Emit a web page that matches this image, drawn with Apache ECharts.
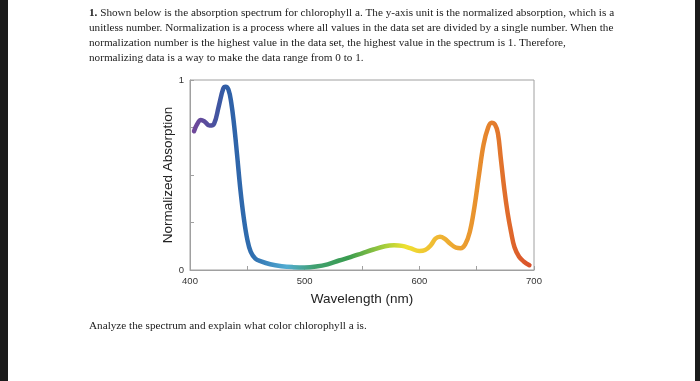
<!DOCTYPE html>
<html>
<head>
<meta charset="utf-8">
<script src="https://cdn.jsdelivr.net/npm/echarts@6/dist/echarts.min.js"></script>
<style>html,body{margin:0;padding:0;background:#fff}#c{width:700px;height:381px}</style>
</head>
<body>
<div id="c"></div>
<script>
const wavelengths = [403.5,406,409.5,413,417,421,425,429,431,433.5,436,438.5,441,444,447,450,453,457,462,470,480,490,500,510,520,530,540,550,560,570,578,585,592,600,605,610,614,618,622,627,632,636,640,644,648,652,656,660,663,666,668.5,671,674,677,680,683,687,691,696];
const absorption = [0.73,0.765,0.79,0.78,0.76,0.77,0.86,0.955,0.965,0.95,0.88,0.76,0.61,0.42,0.27,0.16,0.095,0.06,0.045,0.03,0.02,0.015,0.013,0.018,0.03,0.05,0.068,0.088,0.108,0.125,0.13,0.127,0.115,0.1,0.105,0.13,0.165,0.175,0.165,0.138,0.118,0.115,0.135,0.2,0.33,0.5,0.66,0.75,0.775,0.765,0.72,0.59,0.43,0.3,0.2,0.12,0.07,0.045,0.025];
const xTicks = [400,500,600,700];
const yTickLabels = [0,1];
const questionNumber = "1.";
const paragraph = [
  " Shown below is the absorption spectrum for chlorophyll a. The y-axis unit is the normalized absorption, which is a",
  "unitless number. Normalization is a process where all values in the data set are divided by a single number. When the",
  "normalization number is the highest value in the data set, the highest value in the spectrum is 1. Therefore,",
  "normalizing data is a way to make the data range from 0 to 1."
];
const question = "Analyze the spectrum and explain what color chlorophyll a is.";
const xTitle = "Wavelength (nm)";
const yTitle = "Normalized Absorption";

const chart = echarts.init(document.getElementById('c'), null, {renderer:'canvas'});
const serif = '"Liberation Serif", "DejaVu Serif", serif';
const sans = '"Liberation Sans", Arial, sans-serif';

const graphics = [
  {type:'rect', left:0, top:0, shape:{width:8, height:381}, style:{fill:'#1b1b1b'}},
  {type:'rect', left:695, top:0, shape:{width:5, height:381}, style:{fill:'#1b1b1b'}}
];
paragraph.forEach((t,i)=>{
  const txt = i === 0 ? '{b|' + questionNumber + '}' + t : t;
  graphics.push({type:'text', left:89, top:8 + i*14.7, style:{
    text:txt, fontFamily:serif, fontSize:11.2, fill:'#1a1a1a',
    rich:{b:{fontFamily:serif, fontSize:11.2, fontWeight:'bold', fill:'#1a1a1a'}}
  }});
});
graphics.push({type:'text', left:89, top:321, style:{text:question, fontFamily:serif, fontSize:11.2, fill:'#1a1a1a'}});

const data = wavelengths.map((w,i)=>[w, absorption[i]]);

chart.setOption({
  backgroundColor:'#ffffff',
  animation:false,
  graphic: graphics,
  grid:{left:190, top:80, right:166, bottom:111, show:true, borderColor:'#a0a0a0', borderWidth:1},
  xAxis:{
    type:'value', min:400, max:700, interval:50,
    name:xTitle, nameLocation:'middle', nameGap:22,
    nameTextStyle:{fontFamily:sans, fontSize:13.5, color:'#222'},
    axisLine:{show:true, lineStyle:{color:'#a0a0a0', width:1}},
    axisTick:{show:true, inside:true, length:4, lineStyle:{color:'#a0a0a0'}},
    axisLabel:{fontFamily:sans, fontSize:9.5, color:'#333', margin:6,
      formatter:v=> xTicks.indexOf(v)>=0 ? String(v) : ''},
    splitLine:{show:false}
  },
  yAxis:{
    type:'value', min:0, max:1, interval:0.25,
    name:yTitle, nameLocation:'middle', nameGap:15, nameRotate:90,
    nameTextStyle:{fontFamily:sans, fontSize:13.5, color:'#222'},
    axisLine:{show:true, lineStyle:{color:'#a0a0a0', width:1}},
    axisTick:{show:true, inside:true, length:4, lineStyle:{color:'#a0a0a0'}},
    axisLabel:{fontFamily:sans, fontSize:9.5, color:'#333', margin:6,
      formatter:v=> yTickLabels.indexOf(v)>=0 ? String(v) : ''},
    splitLine:{show:false}
  },
  series:[{
    type:'line', data:data, smooth:0.4, showSymbol:false, symbol:'none',
    lineStyle:{width:4.5, cap:'round', join:'round',
      color:new echarts.graphic.LinearGradient(0,0,1,0,[
        {offset:0.00, color:'#74479a'},
        {offset:0.06, color:'#4f4f9e'},
        {offset:0.10, color:'#2f5ea6'},
        {offset:0.18, color:'#2f6fb0'},
        {offset:0.28, color:'#52acd2'},
        {offset:0.36, color:'#40a070'},
        {offset:0.46, color:'#3a9c50'},
        {offset:0.57, color:'#a8cf3a'},
        {offset:0.63, color:'#efe130'},
        {offset:0.72, color:'#f0b834'},
        {offset:0.84, color:'#e8902e'},
        {offset:1.00, color:'#d94e2a'}
      ])}
  }]
});
</script>
</body>
</html>
